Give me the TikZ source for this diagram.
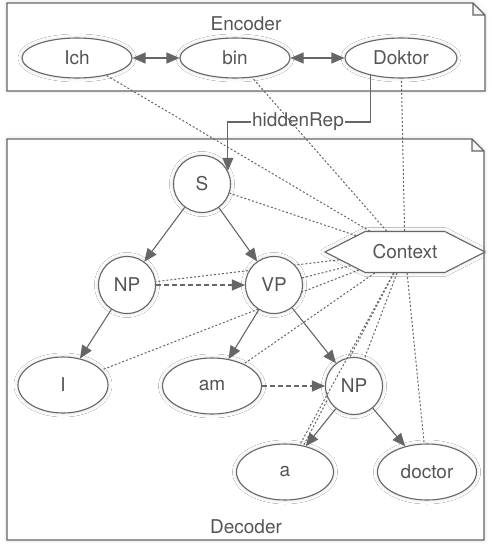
\documentclass[tikz,border=0pt]{standalone}
\usepackage{fontspec}
\setmainfont{TeX Gyre Heros}
\usetikzlibrary{shapes.geometric,shapes.symbols,arrows.meta,backgrounds,shadows.blur}
\definecolor{ln}{HTML}{666666}
\definecolor{tx}{HTML}{555555}
\tikzset{
  glow/.style={blur shadow={shadow xshift=0pt,shadow yshift=0pt,shadow blur radius=4pt,shadow blur steps=10,shadow opacity=15}},
  box/.style={draw=ln,line width=1.2pt,fill=white,glow},
  word/.style={ellipse,draw=ln,line width=1.1pt,fill=white,glow,inner sep=0pt,minimum width=110pt,minimum height=40pt},
  leaf/.style={word,minimum width=99pt,minimum height=56pt},
  cat/.style={circle,draw=ln,line width=1.1pt,fill=white,glow,inner sep=0pt,minimum size=57pt},
  ctx/.style={signal,signal to=west and east,signal pointer angle=54,draw=ln,line width=1.1pt,fill=white,glow,inner sep=0pt,minimum width=160pt,minimum height=41pt},
  lbl/.style={inner sep=1pt},
  arr/.style={draw=ln,line width=1.1pt,-{Triangle[length=13pt,width=11pt]}},
  both/.style={arr,{Triangle[length=13pt,width=11pt]}-{Triangle[length=13pt,width=11pt]}},
  seq/.style={arr,dash pattern=on 5pt off 3pt},
  att/.style={draw=ln,line width=1pt,dash pattern=on 2pt off 2pt}
}
\begin{document}
\begin{tikzpicture}[x=1pt,y=-1pt,font=\fontsize{19}{21}\selectfont,text=tx]
  \useasboundingbox (0,0) rectangle (491,547);
  % encoder
  \node[lbl] (enc) at (246,24) {Encoder};
  \node[word] (Ich) at (77,58) {Ich};
  \node[word] (bin) at (235,58) {bin};
  \node[word,minimum width=112pt] (Doktor) at (401,58) {Doktor};
  \node[lbl] (hr) at (298,122) {hiddenRep};
  % decoder
  \node[lbl] (dec) at (246,527) {Decoder};
  \node[cat] (S) at (202,184) {S};
  \node[cat] (NPa) at (127,285) {NP};
  \node[cat] (VP) at (274,285) {VP};
  \node[ctx] (Context) at (405,252) {Context};
  \node[leaf,minimum width=90pt] (I) at (63,385) {I};
  \node[leaf] (am) at (212,386) {am};
  \node[cat] (NPb) at (354,386) {NP};
  \node[leaf,minimum width=97pt] (a) at (285,472) {a};
  \node[leaf] (doctor) at (427,472) {doctor};

  \draw[both] (Ich) -- (bin);
  \draw[both] (bin) -- (Doktor);
  \draw[draw=ln,line width=1.1pt] (Doktor.210) |- (hr.east);
  \draw[arr] (hr.west) -| (S.27);
  \draw[arr] (S) -- (NPa);
  \draw[arr] (S) -- (VP);
  \draw[arr] (NPa) -- (I);
  \draw[arr] (VP) -- (am);
  \draw[arr] (VP) -- (NPb);
  \draw[arr] (NPb) -- (a);
  \draw[arr] (NPb) -- (doctor);
  \draw[seq] (NPa) -- (VP);
  \draw[seq] (am) -- (NPb);
  \draw[att] (Context) -- (a);

  \begin{scope}[on background layer]
    \draw[box] (7,3) -- (473,3) -- (485,15) -- (485,91) -- (7,91) -- cycle (473,3) -- (473,15) -- (485,15);
    \draw[box] (7,139) -- (472,139) -- (484,151) -- (484,540) -- (7,540) -- cycle (472,139) -- (472,151) -- (484,151);
    \foreach \n in {Ich,bin,Doktor,S,NPa,VP,I,am,NPb,doctor}
      \draw[att] (Context) -- (\n);
    \draw[att] (Context) -- (a.55);
  \end{scope}
\end{tikzpicture}
\end{document}
